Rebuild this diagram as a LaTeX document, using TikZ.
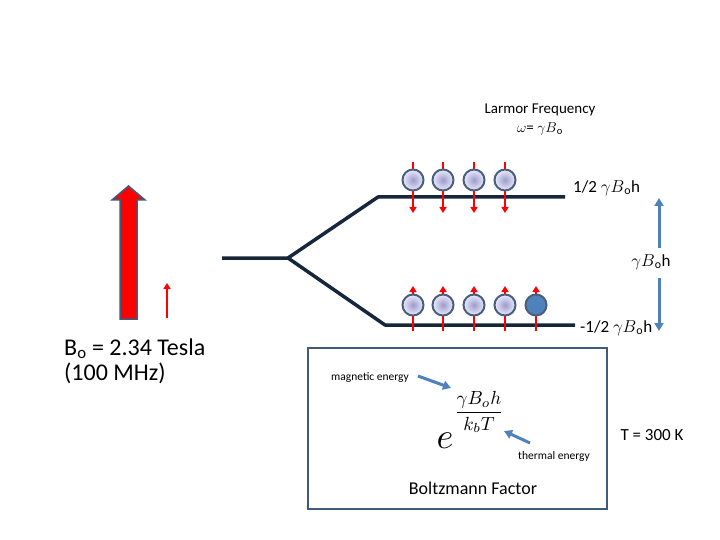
\documentclass[tikz,border=0pt]{standalone}
\usepackage{fontspec}
\setmainfont{Carlito}
\usetikzlibrary{arrows.meta,shapes.arrows}
\definecolor{navy}{HTML}{17263A}
\definecolor{bbord}{HTML}{3E5B7C}
\definecolor{barrow}{HTML}{4F81BD}
\definecolor{ring}{HTML}{4A5F7C}
\begin{document}
\begin{tikzpicture}[x=1pt,y=-1pt,
  lvl/.style={line width=3.5pt,navy,line join=round},
  spin/.style={circle,minimum size=21pt,inner sep=0pt,draw=ring,line width=2pt,inner color=blue!30!gray!60!white,outer color=blue!8!white},
  sarr/.style={red,line width=2pt,-{Triangle[length=6pt,width=7pt]}},
  barr/.style={barrow,line width=3pt,-{Triangle[length=8pt,width=9pt]}},
  lab/.style={inner sep=0pt,font=\fontsize{17}{20}\selectfont}]
\useasboundingbox (0,0) rectangle (720,540);
% field arrows
\draw[fill=red,draw=bbord,line width=1.5pt] (120,319)--(120,200)--(112,200)--(128.5,186)--(145,200)--(137,200)--(137,319)--cycle;
\coordinate (sa) at (167,318); \coordinate (sb) at (167,283);
\draw[sarr] (sa)--(sb);
\node[lab,anchor=west,font=\fontsize{24}{25}\selectfont,align=left] (bo) at (64,361) {B\textsubscript{o} = 2.34 Tesla\\(100 MHz)};
% levels
\coordinate (l0) at (222,258); \coordinate (sp) at (288,258);
\coordinate (u1) at (378,197); \coordinate (u2) at (565,197);
\coordinate (d1) at (385,325); \coordinate (d2) at (575,325);
\draw[lvl] (l0)--(sp)--(u1)--(u2);
\draw[lvl] (sp)--(d1)--(d2);
% spins
\foreach \i/\x in {1/413,2/443,3/474,4/505}{
  \coordinate (ut\i) at (\x,162); \coordinate (ub\i) at (\x,213);
  \draw[sarr] (ut\i)--(ub\i);
  \node[spin] (us\i) at (\x,180) {};
  \draw[red,line width=2pt] (\x,162)--(us\i.north);
}
\foreach \i/\x in {1/413,2/443,3/474,4/505,5/536}{
  \coordinate (dt\i) at (\x,331); \coordinate (db\i) at (\x,286);
  \draw[sarr] (dt\i)--(db\i);
  \ifnum\i=5
    \node[circle,minimum size=21pt,inner sep=0pt,draw=ring,line width=2pt,fill=barrow] (ds\i) at (\x,305) {};
  \else
    \node[spin] (ds\i) at (\x,305) {};
  \fi
  \draw[red,line width=2pt] (\x,331)--(ds\i.south);
  \draw[red,line width=2pt] (\x,290)--(ds\i.north);
}
% labels
\node[lab,font=\fontsize{15}{17}\selectfont] (lf) at (540,110) {Larmor Frequency};
\node[lab,font=\fontsize{15}{17}\selectfont] (om) at (540,129) {$\omega$= $\gamma B$\textsubscript{o}};
\node[lab,anchor=west] (eu) at (573,188) {1/2 $\gamma B$\textsubscript{o}h};
\node[lab] (eg) at (651,262) {$\gamma B$\textsubscript{o}h};
\node[lab,anchor=west] (ed) at (580,328) {-1/2 $\gamma B$\textsubscript{o}h};
\coordinate (g1) at (659,248); \coordinate (g2) at (659,198);
\coordinate (g3) at (659,278); \coordinate (g4) at (659,331);
\draw[barr] (g1)--(g2);
\draw[barr] (g3)--(g4);
% box
\node[draw=bbord,line width=2.5pt,minimum width=299pt,minimum height=161pt,inner sep=0pt] (box) at (457.5,428.5) {};
\node[lab,font=\fontsize{11.5}{13}\selectfont] (me) at (370,378) {magnetic energy};
\coordinate (m1) at (418,376); \coordinate (m2) at (451,388);
\draw[barr] (m1)--(m2);
\node[inner sep=0pt,scale=3.6] (ee) at (445,441) {$e$};
\node[inner sep=0pt,scale=1.9] (fr) at (479,412) {$\displaystyle\frac{\gamma B_o h}{k_b T}$};
\node[lab,font=\fontsize{11.5}{13}\selectfont] (te) at (554,456) {thermal energy};
\coordinate (t1) at (530,443); \coordinate (t2) at (504,431);
\draw[barr] (t1)--(t2);
\node[lab,font=\fontsize{18}{20}\selectfont] (bf) at (473,488) {Boltzmann Factor};
\node[lab] (tk) at (652,435) {T = 300 K};
\end{tikzpicture}
\end{document}
